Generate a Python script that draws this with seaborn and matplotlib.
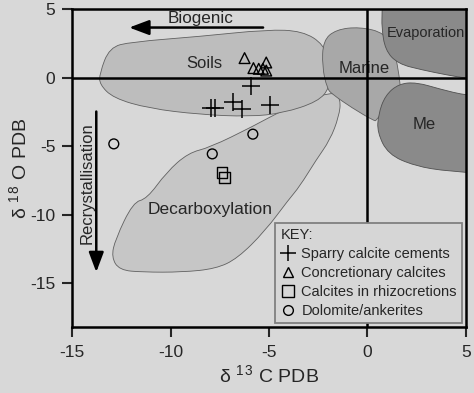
import numpy as np
import pandas as pd
import matplotlib
matplotlib.use("Agg")
import matplotlib.pyplot as plt
import seaborn as sns
from matplotlib.lines import Line2D
from matplotlib.path import Path
from matplotlib.patches import PathPatch

# ---------------- data ----------------
sparry_x = [-5.9, -7.97, -7.75, -6.84, -6.36, -4.94]
sparry_y = [-0.63, -2.2, -2.2, -1.75, -2.3, -2.0]
concr_x = [-6.24, -5.79, -5.52, -5.31, -5.14, -5.14]
concr_y = [1.42, 0.69, 0.64, 0.64, 1.1, 0.51]
rhizo_x = [-7.39, -7.26]
rhizo_y = [-6.93, -7.30]
dolo_x = [-12.88, -7.88, -5.82]
dolo_y = [-4.84, -5.57, -4.13]

# region outlines (control vertices of smooth closed curves)
soils_x = [-13.6, -13.1, -12.0, -8.5, -5.1, -3.3, -2.2, -1.9, -1.9, -2.5, -4.3, -6.0, -8.5, -11.1, -12.9, -13.6]
soils_y = [0.3, 2.2, 2.6, 3.0, 3.5, 3.4, 2.4, 0.8, -0.7, -1.75, -2.6, -2.85, -2.7, -2.25, -1.5, -0.5]
marine_x = [-2.05, -2.3, -2.25, -1.6, -0.4, 0.9, 1.4, 1.62, 1.7, 1.35, 0.65, 0.44, 0.38, -0.8, -1.8]
marine_y = [-0.8, 0.8, 2.7, 3.5, 3.7, 3.25, 1.8, 0.07, -1.2, -2.2, -2.75, -3.1, -3.2, -2.2, -1.2]
evap_x = [0.75, 0.72, 0.9, 1.55, 2.8, 4.0, 5.0, 8.0, 8.0, 0.75]
evap_y = [4.8, 3.7, 2.0, 1.0, 0.55, 0.2, -0.05, -0.5, 8.0, 8.0]
me_x = [0.55, 0.9, 1.6, 2.5, 3.7, 5.0, 8.0, 8.0, 4.1, 2.4, 1.05, 0.5]
me_y = [-2.7, -1.3, -0.45, -0.35, -0.85, -1.3, -1.8, -7.2, -6.85, -6.45, -5.6, -4.0]
decarb_x = [-1.76, -1.35, -1.45, -1.9, -2.6, -3.45, -4.0, -5.2, -6.6, -7.7, -9.4, -11.4, -12.6, -13.0, -12.8, -11.9, -11.2, -10.2, -9.1, -8.0, -5.8, -4.2]
decarb_y = [-0.95, -1.6, -2.85, -4.55, -6.0, -7.96, -8.9, -11.2, -13.2, -13.95, -14.2, -14.2, -14.05, -13.1, -11.8, -9.1, -8.85, -6.9, -5.5, -5.1, -3.55, -2.3]

x_ticks = [-15, -10, -5, 0, 5]
y_ticks = [-15, -10, -5, 0, 5]


def smooth_patch(xs, ys, **kw):
    """Closed quadratic-Bezier outline through midpoints of the given vertices."""
    pts = np.column_stack([xs, ys])
    n = len(pts)
    mids = (pts + np.roll(pts, -1, axis=0)) / 2.0
    verts = [mids[-1]]
    codes = [Path.MOVETO]
    for i in range(n):
        verts += [pts[i], mids[i]]
        codes += [Path.CURVE3, Path.CURVE3]
    verts.append(mids[-1])
    codes.append(Path.CLOSEPOLY)
    return PathPatch(Path(verts, codes), **kw)


# ---------------- style ----------------
bg = "#d8d8d8"
sns.set_style("ticks", {"axes.facecolor": bg, "figure.facecolor": bg,
                        "axes.edgecolor": "black"})
plt.rcParams["font.family"] = ["Liberation Sans", "DejaVu Sans"]
plt.rcParams["axes.unicode_minus"] = False
plt.rcParams["mathtext.fontset"] = "custom"
plt.rcParams["mathtext.rm"] = "Liberation Sans"
plt.rcParams["mathtext.it"] = "Liberation Sans"
plt.rcParams["mathtext.bf"] = "Liberation Sans"

fig = plt.figure(figsize=(4.74, 3.93), dpi=100)
ax = fig.add_axes([0.152, 0.168, 0.831, 0.809])

# regions
ax.add_patch(smooth_patch(decarb_x, decarb_y, facecolor="#c6c6c6", edgecolor="#606060", lw=0.6, zorder=1))
ax.add_patch(smooth_patch(soils_x, soils_y, facecolor="#bdbdbd", edgecolor="#606060", lw=0.6, zorder=2))
ax.add_patch(smooth_patch(marine_x, marine_y, facecolor="#a8a8a8", edgecolor="#606060", lw=0.6, zorder=2))
ax.add_patch(smooth_patch(evap_x, evap_y, facecolor="#8a8a8a", edgecolor="#505050", lw=0.6, zorder=2))
ax.add_patch(smooth_patch(me_x, me_y, facecolor="#8a8a8a", edgecolor="#505050", lw=0.6, zorder=2))

# region labels
fs = 12
ax.text(-8.3, 1.05, "Soils", fontsize=fs, ha="center", va="center", zorder=3)
ax.text(-0.15, 0.69, "Marine", fontsize=fs, ha="center", va="center", zorder=3)
ax.text(2.98, 3.24, "Evaporation", fontsize=10.5, ha="center", va="center", zorder=3)
ax.text(2.89, -3.45, "Me", fontsize=fs, ha="center", va="center", zorder=3)
ax.text(-8.0, -9.66, "Decarboxylation", fontsize=12.5, ha="center", va="center", zorder=3)
ax.text(-8.5, 4.34, "Biogenic", fontsize=12.3, ha="center", va="center", zorder=3)
ax.text(-14.25, -7.7, "Recrystallisation", fontsize=12, ha="center", va="center",
        rotation=90, zorder=3)

# arrows
astyle = "-|>,head_length=1.2,head_width=0.45"
ax.annotate("", xy=(-12.1, 3.65), xytext=(-5.3, 3.65),
            arrowprops=dict(arrowstyle=astyle, color="black", lw=1.8,
                            shrinkA=0, shrinkB=0), zorder=4)
ax.annotate("", xy=(-13.77, -14.2), xytext=(-13.77, -2.48),
            arrowprops=dict(arrowstyle=astyle, color="black", lw=1.8,
                            shrinkA=0, shrinkB=0), zorder=4)

# zero lines
ax.axhline(0, color="black", lw=1.8, zorder=5)
ax.axvline(0, color="black", lw=1.8, zorder=5)

# points
d_sp = pd.DataFrame({"x": sparry_x, "y": sparry_y})
d_co = pd.DataFrame({"x": concr_x, "y": concr_y})
d_rh = pd.DataFrame({"x": rhizo_x, "y": rhizo_y})
d_do = pd.DataFrame({"x": dolo_x, "y": dolo_y})
sns.scatterplot(data=d_sp, x="x", y="y", marker="+", s=150, color="black",
                linewidth=1.1, ax=ax, zorder=6)
sns.scatterplot(data=d_co, x="x", y="y", marker="^", s=60, facecolor="none",
                edgecolor="black", linewidth=1.0, ax=ax, zorder=6)
sns.scatterplot(data=d_rh, x="x", y="y", marker="s", s=55, facecolor="none",
                edgecolor="black", linewidth=1.0, ax=ax, zorder=6)
sns.scatterplot(data=d_do, x="x", y="y", marker="o", s=50, facecolor="none",
                edgecolor="black", linewidth=1.0, ax=ax, zorder=6)

ax.set_xlim(-15, 5)
ax.set_ylim(-18.2, 5)
ax.set_xticks(x_ticks)
ax.set_yticks(y_ticks)
ax.tick_params(direction="out", length=7, width=1.5, labelsize=12.5)
ax.tick_params(axis="x", pad=6)
ax.tick_params(axis="y", pad=5)
for s in ax.spines.values():
    s.set_linewidth(1.8)
    s.set_zorder(7)

ax.set_xlabel(r"$\delta\ ^{1\,3}$ C PDB", fontsize=14, labelpad=3)
ax.set_ylabel(r"$\delta\ ^{1\,8}$ O PDB", fontsize=14, labelpad=0)

handles = [
    Line2D([], [], marker="+", ls="none", color="black", ms=12, mew=1.1),
    Line2D([], [], marker="^", ls="none", mfc="none", mec="black", ms=7),
    Line2D([], [], marker="s", ls="none", mfc="none", mec="black", ms=8),
    Line2D([], [], marker="o", ls="none", mfc="none", mec="black", ms=7),
]
labels = ["Sparry calcite cements", "Concretionary calcites",
          "Calcites in rhizocretions", "Dolomite/ankerites"]
leg = ax.legend(handles, labels, title="KEY:", loc="lower right",
                bbox_to_anchor=(0.99, 0.013), borderaxespad=0,
                fontsize=10.5, title_fontsize=10.5,
                frameon=True, fancybox=False, handlelength=1.0,
                handletextpad=0.45, labelspacing=0.33, borderpad=0.35,
                alignment="left", edgecolor="#808080", facecolor="#d6d6d6",
                framealpha=1.0)
leg.get_frame().set_linewidth(1.3)
leg.set_zorder(8)

fig.savefig("out.png", dpi=100, facecolor=bg)
